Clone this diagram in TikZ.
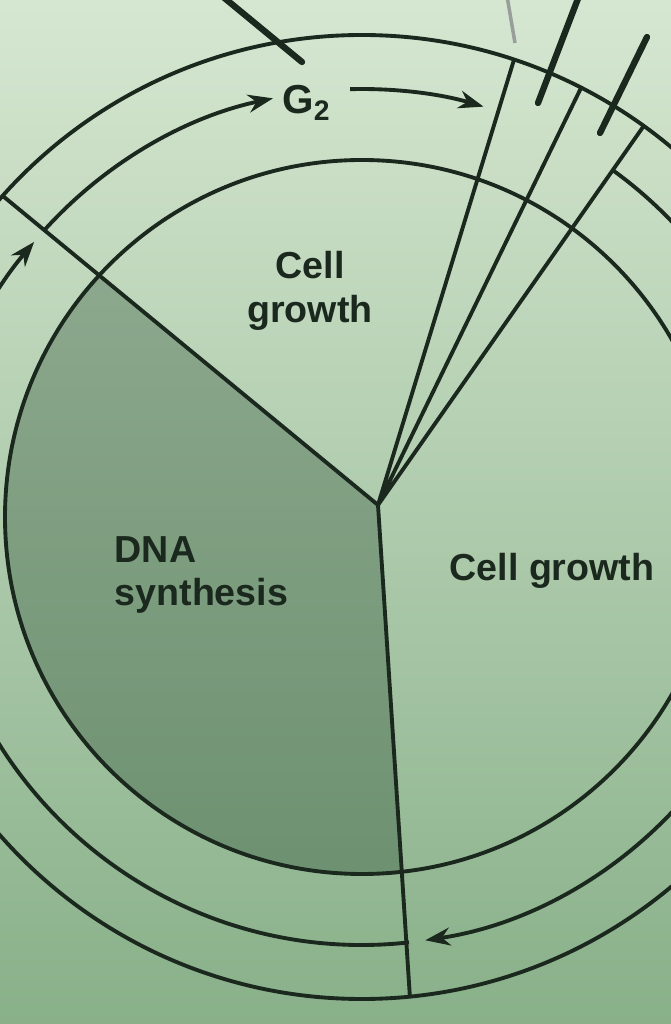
\documentclass[tikz,border=0pt]{standalone}
\usepackage{fontspec}
\setmainfont{Liberation Sans}
\usepackage{xcolor}
\usetikzlibrary{arrows.meta,calc}

\definecolor{papertop}{RGB}{214,231,209}
\definecolor{paperbot}{RGB}{136,176,137}
\definecolor{ink}{RGB}{26,40,30}
\definecolor{shadegreen}{RGB}{30,66,40}

\begin{document}
\begin{tikzpicture}[
  phaseline/.style={ink, line width=1.1pt},
  ringarrow/.style={ink, line width=1.1pt, -{Stealth[length=2.5mm,width=1.8mm]}},
  leader/.style={ink, line width=1.8pt, line cap=round},
  phaselabel/.style={ink, font=\bfseries\fontsize{10.7}{12.5}\selectfont, inner sep=0pt}
]
\useasboundingbox (0,0) rectangle (6.71,10.24);
\shade[top color=papertop, bottom color=paperbot] (0,0) rectangle (6.71,10.24);
\clip (0,0) rectangle (6.71,10.24);

% centre of the rings, and the point where the phases meet
\coordinate (O) at (3.62,5.07);
\coordinate (V) at (3.78,5.19);
\coordinate (ulIn) at ([shift={(137.4:3.57)}]O);
\coordinate (dnIn) at ([shift={(276.4:3.57)}]O);
\coordinate (fanA) at (5.13,9.61);
\coordinate (fanB) at (5.80,9.34);
\coordinate (fanC) at (6.43,8.97);

% shaded DNA synthesis sector
\fill[shadegreen, fill opacity=0.32]
  (V) -- (ulIn) arc[start angle=137.4, end angle=276.4, radius=3.57] -- cycle;

% rings
\draw[phaseline] (O) circle (3.57) (O) circle (4.82);

% lines from the meeting point out to the outer ring
\begin{scope}
  \clip (O) circle (4.82);
  \draw[phaseline]
    (V) -- ($(V)!1.6!(ulIn)$)
    (V) -- ($(V)!1.5!(dnIn)$)
    (V) -- ($(V)!1.05!(fanA)$)
    (V) -- ($(V)!1.05!(fanB)$)
    (V) -- ($(V)!1.05!(fanC)$);
\end{scope}

% arrows round the middle ring (clockwise)
\draw[ringarrow] ([shift={(276.3:4.28)}]O) arc[start angle=276.3, end angle=140, radius=4.28];
\draw[ringarrow] ([shift={(137.9:4.28)}]O) arc[start angle=137.9, end angle=102, radius=4.28];
\draw[ringarrow] ([shift={(91.6:4.28)}]O) arc[start angle=91.6, end angle=73.5, radius=4.28];
\draw[ringarrow] ([shift={(54.1:4.28)}]O) arc[start angle=54.1, end angle=-81.5, radius=4.28];

% labels
\node[phaselabel, font=\bfseries\fontsize{11.5}{13}\selectfont] (gtwo) at (3.07,9.21) {G\textsubscript{2}};
\node[phaselabel, align=center] (growthtop) at (3.10,7.33) {Cell\\growth};
\node[phaselabel, align=left, anchor=west] (dna) at (1.14,4.49) {DNA\\synthesis};
\node[phaselabel] (growthright) at (5.52,4.53) {Cell growth};

% leader lines from labels above
\coordinate (gtwoTop) at (2.22,10.28);
\coordinate (gtwoEnd) at (3.02,9.62);
\coordinate (leadA) at (5.07,10.28);
\coordinate (leadAEnd) at (5.15,9.81);
\coordinate (leadB) at (5.79,10.28);
\coordinate (leadBEnd) at (5.38,9.21);
\coordinate (leadC) at (6.47,9.87);
\coordinate (leadCEnd) at (6.00,8.91);
\draw[leader] (gtwoTop) -- (gtwoEnd) (leadB) -- (leadBEnd) (leadC) -- (leadCEnd);
\draw[ink!45, line width=1pt] (leadA) -- (leadAEnd);
\end{tikzpicture}
\end{document}
